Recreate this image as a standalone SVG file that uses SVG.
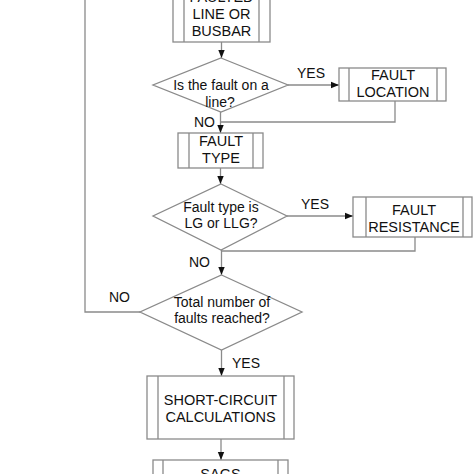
<svg xmlns="http://www.w3.org/2000/svg" width="474" height="474" viewBox="0 0 474 474">
<style>
.box{fill:#fff;stroke:#8a8a8a;stroke-width:1.3}
.in{stroke:#8a8a8a;stroke-width:1.3;fill:none}
.dia{fill:#fff;stroke:#8a8a8a;stroke-width:1.3}
.ln{fill:none;stroke:#8a8a8a;stroke-width:1.3}
.t{font-family:"Liberation Sans",Arial,sans-serif;font-size:14.5px;fill:#111;text-anchor:middle}
.d{font-family:"Liberation Sans",Arial,sans-serif;font-size:14px;fill:#111;text-anchor:middle}
.l{font-family:"Liberation Sans",Arial,sans-serif;font-size:14px;fill:#111}
</style>
<defs>
<marker id="ah" markerWidth="8" markerHeight="8" refX="8" refY="4" orient="auto" markerUnits="userSpaceOnUse">
<path d="M0,0.8 L8,4 L0,7.2 Z" fill="#111"/>
</marker>
</defs>
<rect width="474" height="474" fill="#fff"/>
<g id="connectors">
<path class="ln" d="M221.5,42 V58" marker-end="url(#ah)"/>
<path class="ln" d="M288,85 H339" marker-end="url(#ah)"/>
<path class="ln" d="M395,101 V122 H220.5"/>
<path class="ln" d="M220.5,112 V133" marker-end="url(#ah)"/>
<path class="ln" d="M220.5,168 V184" marker-end="url(#ah)"/>
<path class="ln" d="M287,216 H353" marker-end="url(#ah)"/>
<path class="ln" d="M415,237 V251 H221.5"/>
<path class="ln" d="M221.5,250 V275" marker-end="url(#ah)"/>
<path class="ln" d="M140,312 H85 V-5"/>
<path class="ln" d="M221.5,350 V376" marker-end="url(#ah)"/>
<path class="ln" d="M221,439 V460" marker-end="url(#ah)"/>
<text class="l" x="297" y="78">YES</text>
<text class="l" x="194" y="127">NO</text>
<text class="l" x="301" y="209">YES</text>
<text class="l" x="189" y="267">NO</text>
<text class="l" x="109" y="302">NO</text>
<text class="l" x="232" y="368">YES</text>
</g>
<g id="faulted-line">
<rect class="box" x="173" y="-20" width="97" height="62"/>
<path class="in" d="M184,-20 V42 M259,-20 V42"/>
<text class="t" x="221.5" y="2">FAULTED</text>
<text class="t" x="221.5" y="19">LINE OR</text>
<text class="t" x="221.5" y="36">BUSBAR</text>
</g>
<g id="on-line">
<polygon class="dia" points="221,58 288,85 221,112 153,85"/>
<text class="d" x="221" y="90">Is the fault on a</text>
<text class="d" x="220" y="107">line?</text>
</g>
<g id="fault-location">
<rect class="box" x="339" y="68" width="107" height="33"/>
<path class="in" d="M349,68 V101 M437,68 V101"/>
<text class="t" x="393" y="80">FAULT</text>
<text class="t" x="393" y="97">LOCATION</text>
</g>
<g id="fault-type">
<rect class="box" x="178" y="133" width="85" height="35"/>
<path class="in" d="M189,133 V168 M253,133 V168"/>
<text class="t" x="221" y="146">FAULT</text>
<text class="t" x="221" y="163">TYPE</text>
</g>
<g id="lg-llg">
<polygon class="dia" points="221,184 287,216 221,250 153,216"/>
<text class="d" x="221" y="212">Fault type is</text>
<text class="d" x="221" y="228">LG or LLG?</text>
</g>
<g id="fault-resistance">
<rect class="box" x="353" y="197" width="119" height="40"/>
<path class="in" d="M366,197 V237 M463,197 V237"/>
<text class="t" x="414" y="215">FAULT</text>
<text class="t" x="414" y="232">RESISTANCE</text>
</g>
<g id="total-faults">
<polygon class="dia" points="221.5,275 302,312 221.5,350 140,312"/>
<text class="d" x="222" y="307">Total number of</text>
<text class="d" x="222" y="323">faults reached?</text>
</g>
<g id="short-circuit">
<rect class="box" x="147" y="376" width="147" height="63"/>
<path class="in" d="M158,376 V439 M284,376 V439"/>
<text class="t" x="220.5" y="405">SHORT-CIRCUIT</text>
<text class="t" x="220.5" y="422">CALCULATIONS</text>
</g>
<g id="sags">
<rect class="box" x="153" y="460" width="135" height="40"/>
<path class="in" d="M163,460 V500 M278,460 V500"/>
<text class="t" x="220.5" y="479">SAGS</text>
</g>
</svg>
